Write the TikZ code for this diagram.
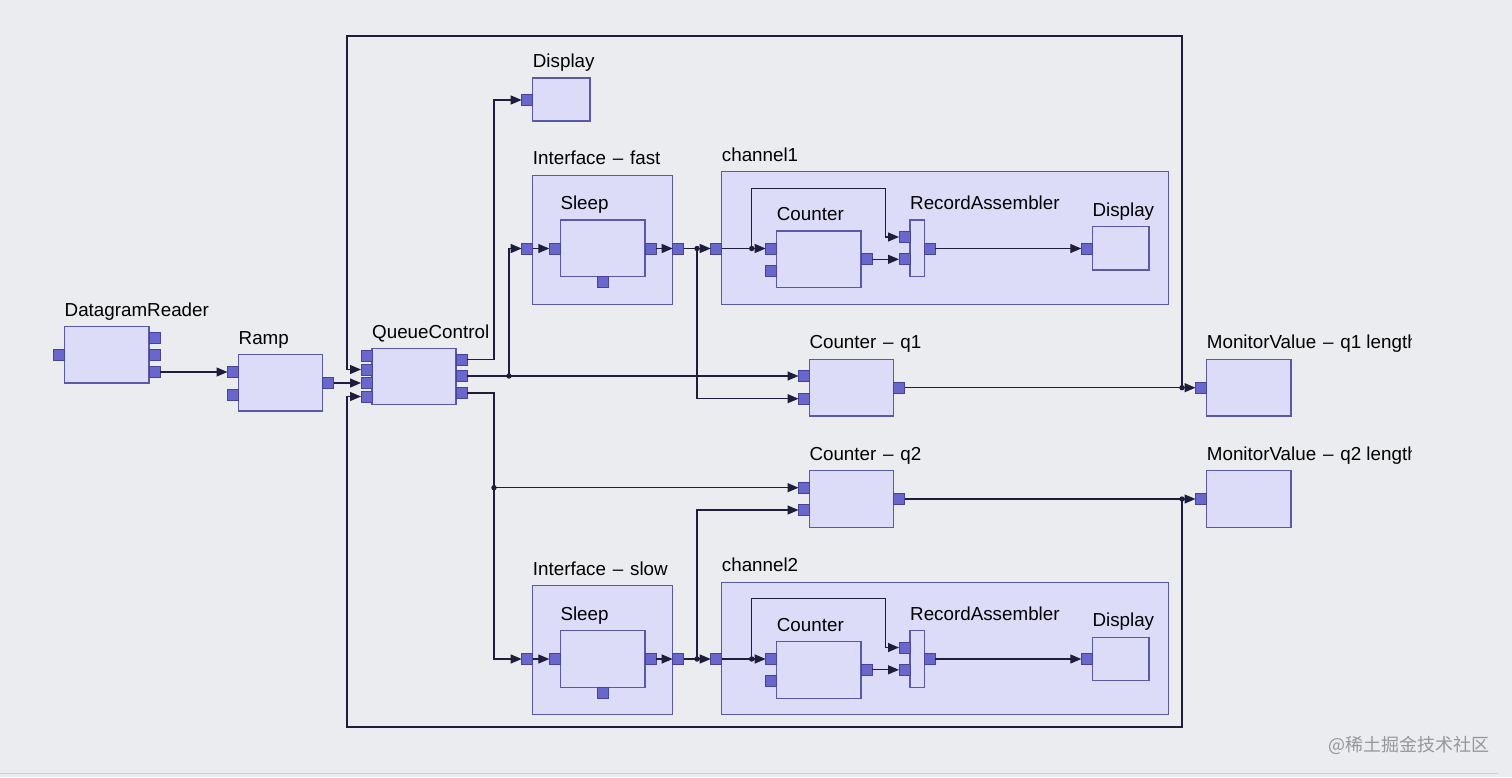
\documentclass[tikz,border=0pt]{standalone}
\usepackage{fontspec}
\setmainfont{Liberation Sans}
\newfontfamily\cjk{Noto Sans CJK SC}
\usetikzlibrary{arrows.meta,calc}
\definecolor{bgc}{HTML}{EBECEF}
\definecolor{boxfill}{HTML}{DCDCF9}
\definecolor{boxline}{HTML}{5A58A8}
\definecolor{portfill}{HTML}{6967CC}
\definecolor{portline}{HTML}{46449A}
\definecolor{wirec}{HTML}{1E1E3C}
\tikzset{
  box/.style={draw=boxline,fill=boxfill,line width=1.2pt,rectangle,inner sep=0pt,outer sep=0pt},
  lbl/.style={anchor=base west,inner sep=0pt,font=\fontsize{18.8}{22}\selectfont,text=black},
  port/.style={draw=portline,fill=portfill,line width=0.8pt,rectangle,minimum width=11pt,minimum height=11pt,inner sep=0pt,outer sep=0pt},
  wire/.style={draw=wirec,line width=1.25pt},
  arr/.style={wire,-{Triangle[length=11pt,width=9pt]}},
  jdot/.style={fill=wirec}
}
\newcommand\dsh{\hspace{1.6pt} -- \hspace{1.6pt}}
\newcommand\blk[6]{%
  \node[box,anchor=north west,minimum width={(#4-#2)*1pt},minimum height={(#5-#3)*1pt}] (#1) at (#2,#3) {};
  \node[lbl] (#1l) at ([yshift=10.5pt]#1.north west) {#6};}
\newcommand\prt[3]{\node[port] (#1) at (#2,#3) {};}
\begin{document}
\begin{tikzpicture}[x=1pt,y=-1pt]
\fill[bgc] (0,0) rectangle (1512,777);
\useasboundingbox (0,0) rectangle (1512,777);
\draw[draw={rgb,255:red,208;green,208;blue,212},line width=1pt] (0,773) -- (1498,773);

% ---------- blocks ----------
\blk{dr}{64.5}{326.5}{149}{383}{DatagramReader}
\blk{rp}{238.5}{354.5}{322.5}{411}{Ramp}
\blk{qc}{372}{348.5}{456}{404.5}{QueueControl}
\blk{dz}{532.7}{78}{590}{121}{Display}
% fast branch
\blk{if}{532.7}{175.3}{672.7}{304.3}{Interface\dsh fast}
\blk{sf}{560.3}{220}{645}{276.7}{Sleep}
\blk{ca}{721.7}{171.7}{1168.3}{304.3}{channel1}
\blk{ka}{776.7}{231}{861}{287.7}{Counter}
\blk{ra}{910}{220}{924.3}{276.7}{RecordAssembler}
\blk{da}{1092.3}{226.7}{1149}{270}{Display}
% slow branch
\blk{is}{532.7}{585.8}{672.7}{714.8}{Interface\dsh slow}
\blk{ss}{560.3}{630.5}{645}{687.2}{Sleep}
\blk{cb}{721.7}{582.2}{1168.3}{714.8}{channel2}
\blk{kb}{776.7}{641.5}{861}{698.2}{Counter}
\blk{rb}{910}{630.5}{924.3}{687.2}{RecordAssembler}
\blk{db}{1092.3}{637.2}{1149}{680.5}{Display}
% counters
\blk{cq}{809.3}{359.3}{893.7}{416}{Counter\dsh q1}
\blk{cr}{809.3}{470.7}{893.7}{527.3}{Counter\dsh q2}
\begin{scope}
\clip (0,0) rectangle (1411,777);
\blk{mv}{1206.7}{359.3}{1291}{416}{MonitorValue\dsh q1 length}
\blk{mw}{1206.7}{470.7}{1291}{527.3}{MonitorValue\dsh q2 length}
\end{scope}

% ---------- ports ----------
\prt{dri}{58.8}{355}
\prt{dro1}{154.5}{337.5}
\prt{dro2}{154.5}{354.5}
\prt{dro3}{154.5}{372}
\prt{rpi1}{233}{372}
\prt{rpi2}{233}{394.5}
\prt{rpo}{328}{383}
\prt{qci1}{366.5}{356}
\prt{qci2}{366.5}{369.5}
\prt{qci3}{366.5}{383}
\prt{qci4}{366.5}{396.5}
\prt{qco1}{461.5}{359.5}
\prt{qco2}{461.5}{376}
\prt{qco3}{461.5}{393}
\prt{dzi}{527.2}{100}
% fast
\prt{ifi}{527.2}{248.5}
\prt{ifo}{678.2}{248.5}
\prt{sfi}{554.8}{248.5}
\prt{sfo}{650.5}{248.5}
\prt{sfb}{602.5}{282.2}
\prt{cai}{716.2}{248.5}
\prt{kai1}{771.2}{248.5}
\prt{kai2}{771.2}{270.7}
\prt{kao}{866.5}{259.3}
\prt{rai1}{904.5}{237}
\prt{rai2}{904.5}{259.3}
\prt{rao}{929.8}{248.5}
\prt{dai}{1086.8}{248.5}
% slow
\prt{isi}{527.2}{659}
\prt{iso}{678.2}{659}
\prt{ssi}{554.8}{659}
\prt{sso}{650.5}{659}
\prt{ssb}{602.5}{692.7}
\prt{cbi}{716.2}{659}
\prt{kbi1}{771.2}{659}
\prt{kbi2}{771.2}{681.2}
\prt{kbo}{866.5}{669.8}
\prt{rbi1}{904.5}{647.5}
\prt{rbi2}{904.5}{669.8}
\prt{rbo}{929.8}{659}
\prt{dbi}{1086.8}{659}
% counters / monitors
\prt{cqi1}{804}{376}
\prt{cqi2}{804}{398.7}
\prt{cqo}{899.2}{387.7}
\prt{cri1}{804}{487.7}
\prt{cri2}{804}{510}
\prt{cro}{899.2}{499}
\prt{mvi}{1201}{387.7}
\prt{mwi}{1201}{499}

% ---------- junctions / bends ----------
\coordinate (jq2) at (509,376);
\coordinate (bq1) at (494,100);
\coordinate (bq3) at (494,659);
\coordinate (jq3) at (494,487.7);
\coordinate (jfa) at (697,248.5);
\coordinate (jsl) at (697,659);
\coordinate (jka) at (751.7,248.5);
\coordinate (tka) at (885.7,188.3);
\coordinate (jkb) at (751.7,659);
\coordinate (tkb) at (885.7,598.8);
\coordinate (jm1) at (1182,387.7);
\coordinate (jm2) at (1182,499);
\coordinate (ftr) at (1182,36);
\coordinate (ftl) at (347,36);
\coordinate (fbr) at (1182,727);
\coordinate (fbl) at (347,727);

% ---------- wires ----------
\draw[arr] (dro3) -- (rpi1);
\draw[arr] (rpo) -- (qci3);
\draw[arr] (qco1) -| (bq1) -- (dzi);
\draw[arr] (qco2) -- (cqi1);
\draw[arr] (jq2) |- (ifi);
\draw[arr] (qco3) -| (bq3) -- (isi);
\draw[arr] (jq3) -- (cri1);
% fast interface
\draw[arr] (ifi) -- (sfi);
\draw[arr] (sfo) -- (ifo);
\draw[arr] (ifo) -- (cai);
\draw[arr] (jfa) |- (cqi2);
\draw[arr] (cai) -- (kai1);
\draw[arr] (jka) |- (tka) |- (rai1);
\draw[arr] (kao) -- (rai2);
\draw[arr] (rao) -- (dai);
% slow interface
\draw[arr] (isi) -- (ssi);
\draw[arr] (sso) -- (iso);
\draw[arr] (iso) -- (cbi);
\draw[arr] (jsl) |- (cri2);
\draw[arr] (cbi) -- (kbi1);
\draw[arr] (jkb) |- (tkb) |- (rbi1);
\draw[arr] (kbo) -- (rbi2);
\draw[arr] (rbo) -- (dbi);
% monitors and feedback
\draw[arr] (cqo) -- (mvi);
\draw[arr] (cro) -- (mwi);
\draw[arr] (jm1) -- (ftr) -- (ftl) |- (qci2);
\draw[arr] (jm2) -- (fbr) -- (fbl) |- (qci4);

% dots
\foreach \j in {jq2,jq3,jfa,jsl,jka,jkb,jm1,jm2}
  \fill[jdot] (\j) circle (2.7pt);

% watermark
\node[anchor=east,inner sep=0pt,text={rgb,255:red,150;green,150;blue,155}] (wm) at (1490,745) {\cjk\fontsize{18}{20}\selectfont @稀土掘金技术社区};
\end{tikzpicture}
\end{document}
